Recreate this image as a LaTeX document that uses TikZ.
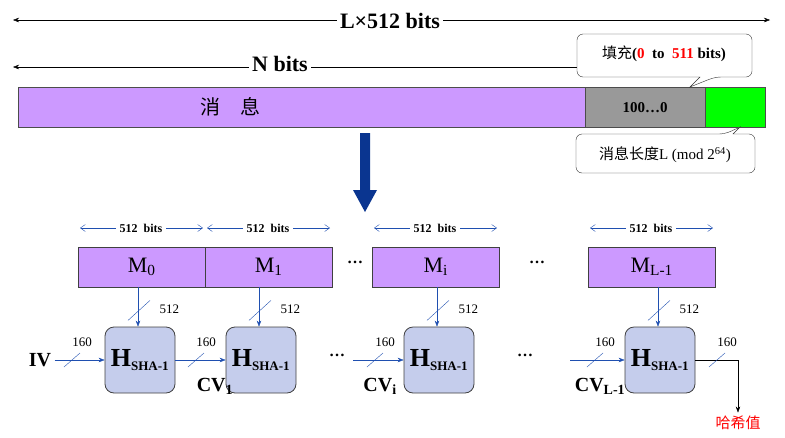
\documentclass[tikz,border=0pt]{standalone}
\usepackage{fontspec}
\setmainfont{Liberation Serif}
\newfontfamily\cjk{Noto Sans CJK SC}
\usetikzlibrary{arrows.meta,calc,shapes.callouts}
\definecolor{msg}{HTML}{CC99FF}
\definecolor{pad}{HTML}{999999}
\definecolor{len}{HTML}{00FF00}
\definecolor{hbox}{HTML}{C5CDEC}
\definecolor{ln}{HTML}{1F4FB0}
\definecolor{bigarrow}{HTML}{0A3590}
\tikzset{
  dim/.style={<->, >={Stealth[length=6pt]}, thin},
  bdim/.style={<->, >={Straight Barb[length=5pt,width=7pt]}, ln, thin},
  mblk/.style={draw=black!75, fill=msg, minimum width=127pt, minimum height=40pt, inner sep=0pt, font=\fontsize{22}{22}\selectfont},
  hblk/.style={draw=black!75, fill=hbox, rounded corners=9pt, thick, minimum width=70pt, minimum height=66pt, inner sep=0pt, font=\bfseries\fontsize{26}{26}\selectfont},
  flow/.style={->, >={Stealth[length=6pt]}, ln},
  note/.style={draw=black!80, fill=white, rounded corners=6pt, inner sep=3pt},
  small/.style={font=\fontsize{13}{13}\selectfont},
  lbl/.style={font=\bfseries\fontsize{20}{20}\selectfont},
}
\newcommand{\hs}{H\textsubscript{\fontsize{13}{13}\selectfont SHA-1}}
\begin{document}
\begin{tikzpicture}[x=1pt,y=-1pt]
\useasboundingbox (0,0) rectangle (785,437);
% total length
\draw[dim] (13,20) -- (770,20);
\node[fill=white, font=\bfseries\fontsize{22}{22}\selectfont] (tot) at (390,21) {L×512 bits};
\draw[dim] (13,67) -- (587,67);
\node[fill=white, font=\bfseries\fontsize{22}{22}\selectfont] (nb) at (280,64) {N bits};
% message bar
\node[draw=black!70, fill=msg, minimum width=567pt, minimum height=40pt, inner sep=0pt, anchor=north west] (msg) at (18,87) {};
\node[font=\cjk\fontsize{20}{20}\selectfont] at (230,107) {消\quad 息};
\node[draw=black!70, fill=pad, minimum width=120pt, minimum height=40pt, inner sep=0pt, anchor=north west, font=\bfseries\fontsize{15}{15}\selectfont] (pad) at (585,87) {100…0};
\node[draw=black!70, fill=len, minimum width=60pt, minimum height=40pt, inner sep=0pt, anchor=north west] (len) at (705,87) {};
% callouts
\draw[black!80, fill=white, rounded corners=6pt] (577,34) -- (752,34) -- (752,77) -- (715,77) [sharp corners]-- (690,87) -- (700,77) [rounded corners=6pt]-- (577,77) -- cycle;
\node[font=\bfseries\fontsize{15}{15}\selectfont] (padnote) at (664,54) {{\cjk\mdseries 填充}(\textcolor{red}{0}\ \ to\ \ \textcolor{red}{511} bits)};
\draw[black!80, fill=white, rounded corners=6pt] (576,134) -- (725,134) [sharp corners]-- (740,127) -- (733,134) [rounded corners=6pt]-- (755,134) -- (755,173) -- (576,173) -- cycle;
\node[font=\fontsize{15}{15}\selectfont] (lennote) at (665,155) {{\cjk 消息长度}L (mod 2\textsuperscript{64})};
% big arrow
\fill[bigarrow] (360,133) -- (370,133) -- (370,190) -- (377,190) -- (365,212) -- (353,190) -- (360,190) -- cycle;
% blocks
\foreach \x/\n/\t in {78/m0/{M\textsubscript{0}}, 205/m1/{M\textsubscript{1}}, 372/mi/{M\textsubscript{i}}, 588/ml/{M\textsubscript{L-1}}}{
  \node[mblk, anchor=north west] (\n) at (\x,247) {\t};
  \draw[bdim] (\x+2,228) -- (\x+125,228);
  \node[fill=white, font=\bfseries\fontsize{12}{12}\selectfont] at (\x+63,228) {512\ \ bits};
}
\node[font=\bfseries\fontsize{16}{16}\selectfont] (d1) at (355,262) {…};
\node[font=\bfseries\fontsize{16}{16}\selectfont] (d2) at (537,262) {…};
% hash boxes
\foreach \x/\n in {140/h0, 261/h1, 439/hi, 660/hl}{
  \node[hblk] (\n) at (\x,360) {\hs};
}
\foreach \m/\h in {m0/h0, m1/h1, mi/hi, ml/hl}{
  \draw[flow] (\m.south -| \h.north) ++(-2,0) coordinate (s\m) -- (\h.north -| s\m);
  \draw[ln] ($(s\m)+(-10,33)$) -- ($(s\m)+(12,13)$);
  \node[small, anchor=west] at ($(s\m)+(18,22)$) {512};
}
% chaining values
\node[lbl] (iv) at (40,360) {IV};
\coordinate (cvi) at (353,360);
\coordinate (cvl) at (570,360);
\draw[flow] (iv) -- (h0);
\draw[flow] (h0) -- (h1);
\draw[flow] (cvi) -- (hi);
\draw[flow] (cvl) -- (hl);
\foreach \x in {72,196,375,595}{
  \draw[ln] (\x-8,367) -- (\x+8,353);
  \node[small] at (\x+10,342) {160};
}
\node[lbl] at (215,386) {CV\textsubscript{1}};
\node[lbl] at (380,386) {CV\textsubscript{i}};
\node[lbl] at (600,386) {CV\textsubscript{L-1}};
\node[font=\bfseries\fontsize{16}{16}\selectfont] at (337,355) {…};
\node[font=\bfseries\fontsize{16}{16}\selectfont] at (525,355) {…};
% output
\node[text=red, font=\cjk\fontsize{15}{15}\selectfont] (out) at (738,423) {哈希值};
\coordinate (corner) at (738,360);
\draw[->, >={Stealth[length=6pt]}] (hl.east) -- (corner) -- (out.north);
\draw[ln] (709,367) -- (725,353);
\node[small] at (727,342) {160};
\end{tikzpicture}
\end{document}
